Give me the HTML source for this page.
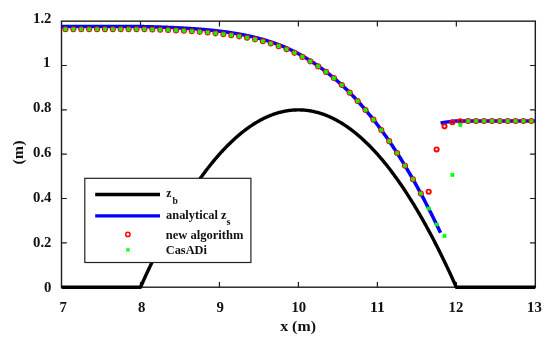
<!DOCTYPE html>
<html><head><meta charset="utf-8"><title>Figure</title>
<style>html,body{margin:0;padding:0;background:#fff}svg{display:block}</style></head>
<body>
<svg width="550" height="338" viewBox="0 0 550 338">
<rect width="550" height="338" fill="#fff"/>
<g stroke="#1c1c1c" stroke-width="1.4" fill="none">
<rect x="61.50" y="21.16" width="473.82" height="266.04"/>
</g>
<g stroke="#1c1c1c" stroke-width="1.2" fill="none">
<path d="M140.47,287.20v-5.3 M140.47,21.16v5.3"/>
<path d="M219.44,287.20v-5.3 M219.44,21.16v5.3"/>
<path d="M298.41,287.20v-5.3 M298.41,21.16v5.3"/>
<path d="M377.38,287.20v-5.3 M377.38,21.16v5.3"/>
<path d="M456.35,287.20v-5.3 M456.35,21.16v5.3"/>
<path d="M61.50,242.86h5.3 M535.32,242.86h-5.3"/>
<path d="M61.50,198.52h5.3 M535.32,198.52h-5.3"/>
<path d="M61.50,154.18h5.3 M535.32,154.18h-5.3"/>
<path d="M61.50,109.84h5.3 M535.32,109.84h-5.3"/>
<path d="M61.50,65.50h5.3 M535.32,65.50h-5.3"/>
</g>
<clipPath id="c"><rect x="59.50" y="19.16" width="477.82" height="270.04"/></clipPath>
<g clip-path="url(#c)">
<path d="M61.50,287.25 L62.29,287.25 L63.08,287.25 L63.87,287.25 L64.66,287.25 L65.45,287.25 L66.24,287.25 L67.03,287.25 L67.82,287.25 L68.61,287.25 L69.40,287.25 L70.19,287.25 L70.98,287.25 L71.77,287.25 L72.56,287.25 L73.35,287.25 L74.14,287.25 L74.92,287.25 L75.71,287.25 L76.50,287.25 L77.29,287.25 L78.08,287.25 L78.87,287.25 L79.66,287.25 L80.45,287.25 L81.24,287.25 L82.03,287.25 L82.82,287.25 L83.61,287.25 L84.40,287.25 L85.19,287.25 L85.98,287.25 L86.77,287.25 L87.56,287.25 L88.35,287.25 L89.14,287.25 L89.93,287.25 L90.72,287.25 L91.51,287.25 L92.30,287.25 L93.09,287.25 L93.88,287.25 L94.67,287.25 L95.46,287.25 L96.25,287.25 L97.04,287.25 L97.83,287.25 L98.62,287.25 L99.41,287.25 L100.20,287.25 L100.98,287.25 L101.77,287.25 L102.56,287.25 L103.35,287.25 L104.14,287.25 L104.93,287.25 L105.72,287.25 L106.51,287.25 L107.30,287.25 L108.09,287.25 L108.88,287.25 L109.67,287.25 L110.46,287.25 L111.25,287.25 L112.04,287.25 L112.83,287.25 L113.62,287.25 L114.41,287.25 L115.20,287.25 L115.99,287.25 L116.78,287.25 L117.57,287.25 L118.36,287.25 L119.15,287.25 L119.94,287.25 L120.73,287.25 L121.52,287.25 L122.31,287.25 L123.10,287.25 L123.89,287.25 L124.68,287.25 L125.47,287.25 L126.26,287.25 L127.05,287.25 L127.83,287.25 L128.62,287.25 L129.41,287.25 L130.20,287.25 L130.99,287.25 L131.78,287.25 L132.57,287.25 L133.36,287.25 L134.15,287.25 L134.94,287.25 L135.73,287.25 L136.52,287.25 L137.31,287.25 L138.10,287.25 L138.89,287.25 L139.68,287.25 L140.47,287.25 L141.26,285.48 L142.05,283.72 L142.84,281.97 L143.63,280.23 L144.42,278.49 L145.21,276.77 L146.00,275.05 L146.79,273.34 L147.58,271.65 L148.37,269.96 L149.16,268.28 L149.95,266.61 L150.74,264.94 L151.53,263.29 L152.32,261.64 L153.11,260.01 L153.89,258.38 L154.68,256.76 L155.47,255.15 L156.26,253.55 L157.05,251.96 L157.84,250.38 L158.63,248.80 L159.42,247.24 L160.21,245.68 L161.00,244.13 L161.79,242.60 L162.58,241.07 L163.37,239.54 L164.16,238.03 L164.95,236.53 L165.74,235.04 L166.53,233.55 L167.32,232.07 L168.11,230.61 L168.90,229.15 L169.69,227.70 L170.48,226.26 L171.27,224.82 L172.06,223.40 L172.85,221.99 L173.64,220.58 L174.43,219.18 L175.22,217.80 L176.01,216.42 L176.80,215.05 L177.59,213.69 L178.38,212.33 L179.17,210.99 L179.95,209.66 L180.74,208.33 L181.53,207.01 L182.32,205.70 L183.11,204.41 L183.90,203.11 L184.69,201.83 L185.48,200.56 L186.27,199.30 L187.06,198.04 L187.85,196.80 L188.64,195.56 L189.43,194.33 L190.22,193.11 L191.01,191.90 L191.80,190.70 L192.59,189.51 L193.38,188.32 L194.17,187.15 L194.96,185.98 L195.75,184.82 L196.54,183.68 L197.33,182.54 L198.12,181.41 L198.91,180.28 L199.70,179.17 L200.49,178.07 L201.28,176.97 L202.07,175.89 L202.86,174.81 L203.65,173.74 L204.44,172.68 L205.23,171.63 L206.02,170.59 L206.80,169.55 L207.59,168.53 L208.38,167.51 L209.17,166.51 L209.96,165.51 L210.75,164.52 L211.54,163.54 L212.33,162.57 L213.12,161.61 L213.91,160.65 L214.70,159.71 L215.49,158.77 L216.28,157.85 L217.07,156.93 L217.86,156.02 L218.65,155.12 L219.44,154.23 L220.23,153.35 L221.02,152.47 L221.81,151.61 L222.60,150.75 L223.39,149.91 L224.18,149.07 L224.97,148.24 L225.76,147.42 L226.55,146.61 L227.34,145.81 L228.13,145.01 L228.92,144.23 L229.71,143.45 L230.50,142.68 L231.29,141.93 L232.08,141.18 L232.86,140.44 L233.65,139.70 L234.44,138.98 L235.23,138.27 L236.02,137.56 L236.81,136.87 L237.60,136.18 L238.39,135.50 L239.18,134.83 L239.97,134.17 L240.76,133.52 L241.55,132.88 L242.34,132.24 L243.13,131.62 L243.92,131.00 L244.71,130.39 L245.50,129.79 L246.29,129.20 L247.08,128.62 L247.87,128.05 L248.66,127.49 L249.45,126.93 L250.24,126.39 L251.03,125.85 L251.82,125.32 L252.61,124.81 L253.40,124.30 L254.19,123.80 L254.98,123.30 L255.77,122.82 L256.56,122.35 L257.35,121.88 L258.14,121.42 L258.93,120.98 L259.71,120.54 L260.50,120.11 L261.29,119.68 L262.08,119.27 L262.87,118.87 L263.66,118.47 L264.45,118.09 L265.24,117.71 L266.03,117.34 L266.82,116.98 L267.61,116.63 L268.40,116.29 L269.19,115.96 L269.98,115.64 L270.77,115.32 L271.56,115.02 L272.35,114.72 L273.14,114.43 L273.93,114.15 L274.72,113.88 L275.51,113.62 L276.30,113.37 L277.09,113.12 L277.88,112.89 L278.67,112.66 L279.46,112.44 L280.25,112.24 L281.04,112.04 L281.83,111.85 L282.62,111.66 L283.41,111.49 L284.20,111.33 L284.99,111.17 L285.77,111.03 L286.56,110.89 L287.35,110.76 L288.14,110.64 L288.93,110.53 L289.72,110.43 L290.51,110.33 L291.30,110.25 L292.09,110.17 L292.88,110.11 L293.67,110.05 L294.46,110.00 L295.25,109.96 L296.04,109.93 L296.83,109.91 L297.62,109.89 L298.41,109.89 L299.20,109.89 L299.99,109.91 L300.78,109.93 L301.57,109.96 L302.36,110.00 L303.15,110.05 L303.94,110.11 L304.73,110.17 L305.52,110.25 L306.31,110.33 L307.10,110.43 L307.89,110.53 L308.68,110.64 L309.47,110.76 L310.26,110.89 L311.05,111.03 L311.83,111.17 L312.62,111.33 L313.41,111.49 L314.20,111.66 L314.99,111.85 L315.78,112.04 L316.57,112.24 L317.36,112.44 L318.15,112.66 L318.94,112.89 L319.73,113.12 L320.52,113.37 L321.31,113.62 L322.10,113.88 L322.89,114.15 L323.68,114.43 L324.47,114.72 L325.26,115.02 L326.05,115.32 L326.84,115.64 L327.63,115.96 L328.42,116.29 L329.21,116.63 L330.00,116.98 L330.79,117.34 L331.58,117.71 L332.37,118.09 L333.16,118.47 L333.95,118.87 L334.74,119.27 L335.53,119.68 L336.32,120.11 L337.11,120.54 L337.89,120.98 L338.68,121.42 L339.47,121.88 L340.26,122.35 L341.05,122.82 L341.84,123.30 L342.63,123.80 L343.42,124.30 L344.21,124.81 L345.00,125.32 L345.79,125.85 L346.58,126.39 L347.37,126.93 L348.16,127.49 L348.95,128.05 L349.74,128.62 L350.53,129.20 L351.32,129.79 L352.11,130.39 L352.90,131.00 L353.69,131.62 L354.48,132.24 L355.27,132.88 L356.06,133.52 L356.85,134.17 L357.64,134.83 L358.43,135.50 L359.22,136.18 L360.01,136.87 L360.80,137.56 L361.59,138.27 L362.38,138.98 L363.17,139.70 L363.96,140.44 L364.74,141.18 L365.53,141.93 L366.32,142.68 L367.11,143.45 L367.90,144.23 L368.69,145.01 L369.48,145.81 L370.27,146.61 L371.06,147.42 L371.85,148.24 L372.64,149.07 L373.43,149.91 L374.22,150.75 L375.01,151.61 L375.80,152.47 L376.59,153.35 L377.38,154.23 L378.17,155.12 L378.96,156.02 L379.75,156.93 L380.54,157.85 L381.33,158.77 L382.12,159.71 L382.91,160.65 L383.70,161.61 L384.49,162.57 L385.28,163.54 L386.07,164.52 L386.86,165.51 L387.65,166.51 L388.44,167.51 L389.23,168.53 L390.02,169.55 L390.80,170.59 L391.59,171.63 L392.38,172.68 L393.17,173.74 L393.96,174.81 L394.75,175.89 L395.54,176.97 L396.33,178.07 L397.12,179.17 L397.91,180.28 L398.70,181.41 L399.49,182.54 L400.28,183.68 L401.07,184.82 L401.86,185.98 L402.65,187.15 L403.44,188.32 L404.23,189.51 L405.02,190.70 L405.81,191.90 L406.60,193.11 L407.39,194.33 L408.18,195.56 L408.97,196.80 L409.76,198.04 L410.55,199.30 L411.34,200.56 L412.13,201.83 L412.92,203.11 L413.71,204.41 L414.50,205.70 L415.29,207.01 L416.08,208.33 L416.87,209.66 L417.65,210.99 L418.44,212.33 L419.23,213.69 L420.02,215.05 L420.81,216.42 L421.60,217.80 L422.39,219.18 L423.18,220.58 L423.97,221.99 L424.76,223.40 L425.55,224.82 L426.34,226.26 L427.13,227.70 L427.92,229.15 L428.71,230.61 L429.50,232.07 L430.29,233.55 L431.08,235.04 L431.87,236.53 L432.66,238.03 L433.45,239.54 L434.24,241.07 L435.03,242.60 L435.82,244.13 L436.61,245.68 L437.40,247.24 L438.19,248.80 L438.98,250.38 L439.77,251.96 L440.56,253.55 L441.35,255.15 L442.14,256.76 L442.93,258.38 L443.71,260.01 L444.50,261.64 L445.29,263.29 L446.08,264.94 L446.87,266.61 L447.66,268.28 L448.45,269.96 L449.24,271.65 L450.03,273.34 L450.82,275.05 L451.61,276.77 L452.40,278.49 L453.19,280.23 L453.98,281.97 L454.77,283.72 L455.56,285.48 L456.35,287.25 L457.14,287.25 L457.93,287.25 L458.72,287.25 L459.51,287.25 L460.30,287.25 L461.09,287.25 L461.88,287.25 L462.67,287.25 L463.46,287.25 L464.25,287.25 L465.04,287.25 L465.83,287.25 L466.62,287.25 L467.41,287.25 L468.20,287.25 L468.99,287.25 L469.77,287.25 L470.56,287.25 L471.35,287.25 L472.14,287.25 L472.93,287.25 L473.72,287.25 L474.51,287.25 L475.30,287.25 L476.09,287.25 L476.88,287.25 L477.67,287.25 L478.46,287.25 L479.25,287.25 L480.04,287.25 L480.83,287.25 L481.62,287.25 L482.41,287.25 L483.20,287.25 L483.99,287.25 L484.78,287.25 L485.57,287.25 L486.36,287.25 L487.15,287.25 L487.94,287.25 L488.73,287.25 L489.52,287.25 L490.31,287.25 L491.10,287.25 L491.89,287.25 L492.68,287.25 L493.47,287.25 L494.26,287.25 L495.05,287.25 L495.83,287.25 L496.62,287.25 L497.41,287.25 L498.20,287.25 L498.99,287.25 L499.78,287.25 L500.57,287.25 L501.36,287.25 L502.15,287.25 L502.94,287.25 L503.73,287.25 L504.52,287.25 L505.31,287.25 L506.10,287.25 L506.89,287.25 L507.68,287.25 L508.47,287.25 L509.26,287.25 L510.05,287.25 L510.84,287.25 L511.63,287.25 L512.42,287.25 L513.21,287.25 L514.00,287.25 L514.79,287.25 L515.58,287.25 L516.37,287.25 L517.16,287.25 L517.95,287.25 L518.74,287.25 L519.53,287.25 L520.32,287.25 L521.11,287.25 L521.90,287.25 L522.68,287.25 L523.47,287.25 L524.26,287.25 L525.05,287.25 L525.84,287.25 L526.63,287.25 L527.42,287.25 L528.21,287.25 L529.00,287.25 L529.79,287.25 L530.58,287.25 L531.37,287.25 L532.16,287.25 L532.95,287.25 L533.74,287.25 L534.53,287.25 L535.32,287.25" stroke="#000" stroke-width="3.4" fill="none" stroke-linejoin="round"/>
<path d="M61.50,26.53 L62.29,26.53 L63.08,26.53 L63.87,26.53 L64.66,26.53 L65.45,26.53 L66.24,26.53 L67.03,26.53 L67.82,26.53 L68.61,26.53 L69.40,26.53 L70.19,26.53 L70.98,26.53 L71.77,26.53 L72.56,26.53 L73.35,26.53 L74.14,26.53 L74.92,26.53 L75.71,26.53 L76.50,26.53 L77.29,26.53 L78.08,26.53 L78.87,26.53 L79.66,26.53 L80.45,26.53 L81.24,26.53 L82.03,26.53 L82.82,26.53 L83.61,26.53 L84.40,26.53 L85.19,26.53 L85.98,26.53 L86.77,26.53 L87.56,26.53 L88.35,26.53 L89.14,26.53 L89.93,26.53 L90.72,26.53 L91.51,26.53 L92.30,26.53 L93.09,26.53 L93.88,26.53 L94.67,26.53 L95.46,26.53 L96.25,26.53 L97.04,26.53 L97.83,26.53 L98.62,26.53 L99.41,26.53 L100.20,26.53 L100.98,26.53 L101.77,26.53 L102.56,26.53 L103.35,26.53 L104.14,26.53 L104.93,26.53 L105.72,26.53 L106.51,26.53 L107.30,26.53 L108.09,26.53 L108.88,26.53 L109.67,26.53 L110.46,26.53 L111.25,26.53 L112.04,26.53 L112.83,26.53 L113.62,26.53 L114.41,26.53 L115.20,26.53 L115.99,26.53 L116.78,26.53 L117.57,26.53 L118.36,26.53 L119.15,26.53 L119.94,26.53 L120.73,26.53 L121.52,26.53 L122.31,26.53 L123.10,26.53 L123.89,26.53 L124.68,26.53 L125.47,26.53 L126.26,26.53 L127.05,26.53 L127.83,26.53 L128.62,26.53 L129.41,26.53 L130.20,26.53 L130.99,26.53 L131.78,26.53 L132.57,26.53 L133.36,26.53 L134.15,26.53 L134.94,26.53 L135.73,26.53 L136.52,26.53 L137.31,26.53 L138.10,26.53 L138.89,26.53 L139.68,26.53 L140.47,26.53 L141.26,26.55 L142.05,26.57 L142.84,26.59 L143.63,26.61 L144.42,26.63 L145.21,26.65 L146.00,26.67 L146.79,26.69 L147.58,26.71 L148.37,26.73 L149.16,26.75 L149.95,26.77 L150.74,26.79 L151.53,26.82 L152.32,26.84 L153.11,26.86 L153.89,26.89 L154.68,26.91 L155.47,26.93 L156.26,26.96 L157.05,26.98 L157.84,27.01 L158.63,27.04 L159.42,27.06 L160.21,27.09 L161.00,27.12 L161.79,27.15 L162.58,27.17 L163.37,27.20 L164.16,27.23 L164.95,27.26 L165.74,27.29 L166.53,27.32 L167.32,27.35 L168.11,27.39 L168.90,27.42 L169.69,27.45 L170.48,27.48 L171.27,27.52 L172.06,27.55 L172.85,27.59 L173.64,27.62 L174.43,27.66 L175.22,27.70 L176.01,27.73 L176.80,27.77 L177.59,27.81 L178.38,27.85 L179.17,27.89 L179.95,27.93 L180.74,27.97 L181.53,28.02 L182.32,28.06 L183.11,28.10 L183.90,28.15 L184.69,28.19 L185.48,28.24 L186.27,28.28 L187.06,28.33 L187.85,28.38 L188.64,28.43 L189.43,28.48 L190.22,28.53 L191.01,28.58 L191.80,28.63 L192.59,28.69 L193.38,28.74 L194.17,28.80 L194.96,28.85 L195.75,28.91 L196.54,28.97 L197.33,29.02 L198.12,29.08 L198.91,29.15 L199.70,29.21 L200.49,29.27 L201.28,29.33 L202.07,29.40 L202.86,29.47 L203.65,29.53 L204.44,29.60 L205.23,29.67 L206.02,29.74 L206.80,29.81 L207.59,29.89 L208.38,29.96 L209.17,30.04 L209.96,30.11 L210.75,30.19 L211.54,30.27 L212.33,30.35 L213.12,30.44 L213.91,30.52 L214.70,30.60 L215.49,30.69 L216.28,30.78 L217.07,30.87 L217.86,30.96 L218.65,31.05 L219.44,31.15 L220.23,31.24 L221.02,31.34 L221.81,31.44 L222.60,31.54 L223.39,31.64 L224.18,31.74 L224.97,31.85 L225.76,31.96 L226.55,32.06 L227.34,32.17 L228.13,32.29 L228.92,32.40 L229.71,32.52 L230.50,32.64 L231.29,32.76 L232.08,32.88 L232.86,33.00 L233.65,33.13 L234.44,33.26 L235.23,33.39 L236.02,33.52 L236.81,33.65 L237.60,33.79 L238.39,33.93 L239.18,34.07 L239.97,34.21 L240.76,34.36 L241.55,34.50 L242.34,34.65 L243.13,34.81 L243.92,34.96 L244.71,35.12 L245.50,35.28 L246.29,35.44 L247.08,35.61 L247.87,35.77 L248.66,35.94 L249.45,36.11 L250.24,36.29 L251.03,36.47 L251.82,36.65 L252.61,36.83 L253.40,37.02 L254.19,37.21 L254.98,37.40 L255.77,37.59 L256.56,37.79 L257.35,37.99 L258.14,38.20 L258.92,38.40 L259.71,38.61 L260.50,38.82 L261.29,39.04 L262.08,39.26 L262.87,39.48 L263.66,39.71 L264.45,39.94 L265.24,40.17 L266.03,40.41 L266.82,40.64 L267.61,40.89 L268.40,41.13 L269.19,41.38 L269.98,41.64 L270.77,41.89 L271.56,42.15 L272.35,42.42 L273.14,42.69 L273.93,42.96 L274.72,43.23 L275.51,43.51 L276.30,43.79 L277.09,44.08 L277.88,44.37 L278.67,44.67 L279.46,44.97 L280.25,45.27 L281.04,45.58 L281.83,45.89 L282.62,46.20 L283.41,46.54 L284.20,46.88 L284.99,47.22 L285.77,47.57 L286.56,47.92 L287.35,48.28 L288.14,48.64 L288.93,49.00 L289.72,49.37 L290.51,49.75 L291.30,50.12 L292.09,50.51 L292.88,50.90 L293.67,51.29 L294.46,51.69 L295.25,52.09 L296.04,52.50 L296.83,52.91 L297.62,53.32 L298.41,53.75 L299.20,54.17 L299.99,54.60 L300.78,55.04 L301.57,55.48 L302.36,55.93 L303.15,56.38 L303.94,56.84 L304.73,57.30 L305.52,57.77 L306.31,58.24 L307.10,58.72 L307.89,59.20 L308.68,59.69 L309.47,60.18 L310.26,60.68 L311.05,61.18 L311.83,61.69 L312.62,62.21 L313.41,62.73 L314.20,63.26 L314.99,63.79 L315.78,64.33 L316.57,64.87 L317.36,65.42 L318.15,65.98 L318.94,66.54 L319.73,67.10 L320.52,67.68 L321.31,68.25 L322.10,68.84 L322.89,69.41 L323.68,69.99 L324.47,70.58 L325.26,71.17 L326.05,71.77 L326.84,72.38 L327.63,72.99 L328.42,73.60 L329.21,74.23 L330.00,74.85 L330.79,75.49 L331.58,76.13 L332.37,76.78 L333.16,77.43 L333.95,78.09 L334.74,78.76 L335.53,79.43 L336.32,80.11 L337.11,80.80 L337.89,81.49 L338.68,82.19 L339.47,82.90 L340.26,83.61 L341.05,84.33 L341.84,85.05 L342.63,85.78 L343.42,86.52 L344.21,87.27 L345.00,88.02 L345.79,88.78 L346.58,89.54 L347.37,90.31 L348.16,91.09 L348.95,91.88 L349.74,92.67 L350.53,93.47 L351.32,94.27 L352.11,95.09 L352.90,95.91 L353.69,96.73 L354.48,97.57 L355.27,98.41 L356.06,99.25 L356.85,100.11 L357.64,100.97 L358.43,101.84 L359.22,102.71 L360.01,103.60 L360.80,104.49 L361.59,105.38 L362.38,106.29 L363.17,107.20 L363.96,108.12 L364.74,109.04 L365.53,109.97 L366.32,110.91 L367.11,111.86 L367.90,112.81 L368.69,113.78 L369.48,114.74 L370.27,115.71 L371.06,116.69 L371.85,117.67 L372.64,118.66 L373.43,119.65 L374.22,120.66 L375.01,121.67 L375.80,122.69 L376.59,123.71 L377.38,124.75 L378.17,125.79 L378.96,126.84 L379.75,127.89 L380.54,128.95 L381.33,130.03 L382.12,131.10 L382.91,132.19 L383.70,133.28 L384.49,134.39 L385.28,135.49 L386.07,136.61 L386.86,137.73 L387.65,138.87 L388.44,140.01 L389.23,141.15 L390.02,142.31 L390.80,143.47 L391.59,144.64 L392.38,145.82 L393.17,147.00 L393.96,148.20 L394.75,149.40 L395.54,150.61 L396.33,151.82 L397.12,153.05 L397.91,154.28 L398.70,155.52 L399.49,156.77 L400.28,158.02 L401.07,159.29 L401.86,160.56 L402.65,161.84 L403.44,163.13 L404.23,164.42 L405.02,165.72 L405.81,167.03 L406.60,168.35 L407.39,169.68 L408.18,171.02 L408.97,172.36 L409.76,173.71 L410.55,175.07 L411.34,176.43 L412.13,177.81 L412.92,179.19 L413.71,180.58 L414.50,181.98 L415.29,183.39 L416.08,184.80 L416.86,186.22 L417.65,187.66 L418.44,189.10 L419.23,190.56 L420.02,192.02 L420.81,193.48 L421.60,194.96 L422.39,196.44 L423.18,197.94 L423.97,199.44 L424.76,200.95 L425.55,202.46 L426.34,203.99 L427.13,205.52 L427.92,207.06 L428.71,208.61 L429.50,210.17 L430.29,211.74 L431.08,213.31 L431.87,214.89 L432.66,216.48 L433.45,218.08 L434.24,219.69 L435.03,221.31 L435.82,222.93 L436.61,224.56 L437.40,226.20 L438.19,227.85 L438.98,229.50 L439.77,231.17 L440.56,232.84" stroke="#00f" stroke-width="3.5" fill="none" stroke-linejoin="round"/>
<path d="M440.56,123.00 L441.35,122.86 L442.14,122.73 L442.93,122.60 L443.71,122.48 L444.50,122.36 L445.29,122.24 L446.08,122.13 L446.87,122.02 L447.66,121.92 L448.45,121.82 L449.24,121.72 L450.03,121.63 L450.82,121.54 L451.61,121.45 L452.40,121.36 L453.19,121.28 L453.98,121.20 L454.77,121.12 L455.56,121.05 L456.35,120.98 L457.14,120.98 L457.93,120.98 L458.72,120.98 L459.51,120.98 L460.30,120.98 L461.09,120.98 L461.88,120.98 L462.67,120.98 L463.46,120.98 L464.25,120.98 L465.04,120.98 L465.83,120.98 L466.62,120.98 L467.41,120.98 L468.20,120.98 L468.99,120.98 L469.77,120.98 L470.56,120.98 L471.35,120.98 L472.14,120.98 L472.93,120.98 L473.72,120.98 L474.51,120.98 L475.30,120.98 L476.09,120.98 L476.88,120.98 L477.67,120.98 L478.46,120.98 L479.25,120.98 L480.04,120.98 L480.83,120.98 L481.62,120.98 L482.41,120.98 L483.20,120.98 L483.99,120.98 L484.78,120.98 L485.57,120.98 L486.36,120.98 L487.15,120.98 L487.94,120.98 L488.73,120.98 L489.52,120.98 L490.31,120.98 L491.10,120.98 L491.89,120.98 L492.68,120.98 L493.47,120.98 L494.26,120.98 L495.05,120.98 L495.83,120.98 L496.62,120.98 L497.41,120.98 L498.20,120.98 L498.99,120.98 L499.78,120.98 L500.57,120.98 L501.36,120.98 L502.15,120.98 L502.94,120.98 L503.73,120.98 L504.52,120.98 L505.31,120.98 L506.10,120.98 L506.89,120.98 L507.68,120.98 L508.47,120.98 L509.26,120.98 L510.05,120.98 L510.84,120.98 L511.63,120.98 L512.42,120.98 L513.21,120.98 L514.00,120.98 L514.79,120.98 L515.58,120.98 L516.37,120.98 L517.16,120.98 L517.95,120.98 L518.74,120.98 L519.53,120.98 L520.32,120.98 L521.11,120.98 L521.90,120.98 L522.68,120.98 L523.47,120.98 L524.26,120.98 L525.05,120.98 L525.84,120.98 L526.63,120.98 L527.42,120.98 L528.21,120.98 L529.00,120.98 L529.79,120.98 L530.58,120.98 L531.37,120.98 L532.16,120.98 L532.95,120.98 L533.74,120.98 L534.53,120.98 L535.32,120.98" stroke="#00f" stroke-width="3.4" fill="none" stroke-linejoin="round"/>
<g stroke="#f00" stroke-width="1.9" fill="none">
<circle cx="65.45" cy="29.19" r="2.1"/>
<circle cx="73.35" cy="29.19" r="2.1"/>
<circle cx="81.24" cy="29.19" r="2.1"/>
<circle cx="89.14" cy="29.19" r="2.1"/>
<circle cx="97.04" cy="29.19" r="2.1"/>
<circle cx="104.93" cy="29.19" r="2.1"/>
<circle cx="112.83" cy="29.19" r="2.1"/>
<circle cx="120.73" cy="29.19" r="2.1"/>
<circle cx="128.62" cy="29.19" r="2.1"/>
<circle cx="136.52" cy="29.19" r="2.1"/>
<circle cx="144.42" cy="29.29" r="2.1"/>
<circle cx="152.32" cy="29.50" r="2.1"/>
<circle cx="160.21" cy="29.75" r="2.1"/>
<circle cx="168.11" cy="30.05" r="2.1"/>
<circle cx="176.01" cy="30.39" r="2.1"/>
<circle cx="183.90" cy="30.81" r="2.1"/>
<circle cx="191.80" cy="31.29" r="2.1"/>
<circle cx="199.70" cy="31.87" r="2.1"/>
<circle cx="207.59" cy="32.55" r="2.1"/>
<circle cx="215.49" cy="33.35" r="2.1"/>
<circle cx="223.39" cy="34.22" r="2.1"/>
<circle cx="231.29" cy="35.18" r="2.1"/>
<circle cx="239.18" cy="36.34" r="2.1"/>
<circle cx="247.08" cy="37.72" r="2.1"/>
<circle cx="254.98" cy="39.36" r="2.1"/>
<circle cx="262.87" cy="41.29" r="2.1"/>
<circle cx="270.77" cy="43.54" r="2.1"/>
<circle cx="278.67" cy="46.16" r="2.1"/>
<circle cx="286.56" cy="49.26" r="2.1"/>
<circle cx="294.46" cy="52.87" r="2.1"/>
<circle cx="302.36" cy="56.90" r="2.1"/>
<circle cx="310.26" cy="61.37" r="2.1"/>
<circle cx="318.15" cy="66.39" r="2.1"/>
<circle cx="326.05" cy="71.91" r="2.1"/>
<circle cx="333.95" cy="78.09" r="2.1"/>
<circle cx="341.84" cy="85.05" r="2.1"/>
<circle cx="349.74" cy="92.67" r="2.1"/>
<circle cx="357.64" cy="100.97" r="2.1"/>
<circle cx="365.53" cy="109.97" r="2.1"/>
<circle cx="373.43" cy="119.65" r="2.1"/>
<circle cx="381.33" cy="130.03" r="2.1"/>
<circle cx="389.23" cy="141.15" r="2.1"/>
<circle cx="397.12" cy="153.05" r="2.1"/>
<circle cx="405.02" cy="165.72" r="2.1"/>
<circle cx="412.92" cy="179.19" r="2.1"/>
<circle cx="420.81" cy="193.48" r="2.1"/>
<circle cx="428.71" cy="191.70" r="2.1"/>
<circle cx="436.61" cy="149.44" r="2.1"/>
<circle cx="444.50" cy="126.36" r="2.1"/>
<circle cx="452.40" cy="122.31" r="2.1"/>
<circle cx="460.30" cy="121.24" r="2.1"/>
<circle cx="468.20" cy="120.98" r="2.1"/>
<circle cx="476.09" cy="120.98" r="2.1"/>
<circle cx="483.99" cy="120.98" r="2.1"/>
<circle cx="491.89" cy="120.98" r="2.1"/>
<circle cx="499.78" cy="120.98" r="2.1"/>
<circle cx="507.68" cy="120.98" r="2.1"/>
<circle cx="515.58" cy="120.98" r="2.1"/>
<circle cx="523.47" cy="120.98" r="2.1"/>
<circle cx="531.37" cy="120.98" r="2.1"/>
</g>
<g stroke="#0f0" stroke-width="2.0" fill="none">
<path d="M63.85,27.59l3.2,3.2M63.85,30.79l3.2,-3.2"/>
<path d="M71.75,27.59l3.2,3.2M71.75,30.79l3.2,-3.2"/>
<path d="M79.64,27.59l3.2,3.2M79.64,30.79l3.2,-3.2"/>
<path d="M87.54,27.59l3.2,3.2M87.54,30.79l3.2,-3.2"/>
<path d="M95.44,27.59l3.2,3.2M95.44,30.79l3.2,-3.2"/>
<path d="M103.33,27.59l3.2,3.2M103.33,30.79l3.2,-3.2"/>
<path d="M111.23,27.59l3.2,3.2M111.23,30.79l3.2,-3.2"/>
<path d="M119.13,27.59l3.2,3.2M119.13,30.79l3.2,-3.2"/>
<path d="M127.02,27.59l3.2,3.2M127.02,30.79l3.2,-3.2"/>
<path d="M134.92,27.59l3.2,3.2M134.92,30.79l3.2,-3.2"/>
<path d="M142.82,27.69l3.2,3.2M142.82,30.89l3.2,-3.2"/>
<path d="M150.72,27.90l3.2,3.2M150.72,31.10l3.2,-3.2"/>
<path d="M158.61,28.15l3.2,3.2M158.61,31.35l3.2,-3.2"/>
<path d="M166.51,28.45l3.2,3.2M166.51,31.65l3.2,-3.2"/>
<path d="M174.41,28.79l3.2,3.2M174.41,31.99l3.2,-3.2"/>
<path d="M182.30,29.21l3.2,3.2M182.30,32.41l3.2,-3.2"/>
<path d="M190.20,29.69l3.2,3.2M190.20,32.89l3.2,-3.2"/>
<path d="M198.10,30.27l3.2,3.2M198.10,33.47l3.2,-3.2"/>
<path d="M205.99,30.95l3.2,3.2M205.99,34.15l3.2,-3.2"/>
<path d="M213.89,31.75l3.2,3.2M213.89,34.95l3.2,-3.2"/>
<path d="M221.79,32.62l3.2,3.2M221.79,35.82l3.2,-3.2"/>
<path d="M229.69,33.58l3.2,3.2M229.69,36.78l3.2,-3.2"/>
<path d="M237.58,34.74l3.2,3.2M237.58,37.94l3.2,-3.2"/>
<path d="M245.48,36.12l3.2,3.2M245.48,39.32l3.2,-3.2"/>
<path d="M253.38,37.76l3.2,3.2M253.38,40.96l3.2,-3.2"/>
<path d="M261.27,39.69l3.2,3.2M261.27,42.89l3.2,-3.2"/>
<path d="M269.17,41.94l3.2,3.2M269.17,45.14l3.2,-3.2"/>
<path d="M277.07,44.56l3.2,3.2M277.07,47.76l3.2,-3.2"/>
<path d="M284.96,47.66l3.2,3.2M284.96,50.86l3.2,-3.2"/>
<path d="M292.86,51.27l3.2,3.2M292.86,54.47l3.2,-3.2"/>
<path d="M300.76,55.30l3.2,3.2M300.76,58.50l3.2,-3.2"/>
<path d="M308.66,59.77l3.2,3.2M308.66,62.97l3.2,-3.2"/>
<path d="M316.55,64.79l3.2,3.2M316.55,67.99l3.2,-3.2"/>
<path d="M324.45,70.31l3.2,3.2M324.45,73.51l3.2,-3.2"/>
<path d="M332.35,76.49l3.2,3.2M332.35,79.69l3.2,-3.2"/>
<path d="M340.24,83.45l3.2,3.2M340.24,86.65l3.2,-3.2"/>
<path d="M348.14,91.07l3.2,3.2M348.14,94.27l3.2,-3.2"/>
<path d="M356.04,99.37l3.2,3.2M356.04,102.57l3.2,-3.2"/>
<path d="M363.93,108.37l3.2,3.2M363.93,111.57l3.2,-3.2"/>
<path d="M371.83,118.05l3.2,3.2M371.83,121.25l3.2,-3.2"/>
<path d="M379.73,128.43l3.2,3.2M379.73,131.63l3.2,-3.2"/>
<path d="M387.63,139.55l3.2,3.2M387.63,142.75l3.2,-3.2"/>
<path d="M395.52,151.45l3.2,3.2M395.52,154.65l3.2,-3.2"/>
<path d="M403.42,164.12l3.2,3.2M403.42,167.32l3.2,-3.2"/>
<path d="M411.32,177.59l3.2,3.2M411.32,180.79l3.2,-3.2"/>
<path d="M419.21,191.88l3.2,3.2M419.21,195.08l3.2,-3.2"/>
<path d="M427.11,207.06l3.2,3.2M427.11,210.26l3.2,-3.2"/>
<path d="M435.01,222.91l3.2,3.2M435.01,226.11l3.2,-3.2"/>
<path d="M442.90,234.22l3.2,3.2M442.90,237.42l3.2,-3.2"/>
<path d="M450.80,173.25l3.2,3.2M450.80,176.45l3.2,-3.2"/>
<path d="M458.70,123.25l3.2,3.2M458.70,126.45l3.2,-3.2"/>
<path d="M466.60,119.38l3.2,3.2M466.60,122.58l3.2,-3.2"/>
<path d="M474.49,119.38l3.2,3.2M474.49,122.58l3.2,-3.2"/>
<path d="M482.39,119.38l3.2,3.2M482.39,122.58l3.2,-3.2"/>
<path d="M490.29,119.38l3.2,3.2M490.29,122.58l3.2,-3.2"/>
<path d="M498.18,119.38l3.2,3.2M498.18,122.58l3.2,-3.2"/>
<path d="M506.08,119.38l3.2,3.2M506.08,122.58l3.2,-3.2"/>
<path d="M513.98,119.38l3.2,3.2M513.98,122.58l3.2,-3.2"/>
<path d="M521.87,119.38l3.2,3.2M521.87,122.58l3.2,-3.2"/>
<path d="M529.77,119.38l3.2,3.2M529.77,122.58l3.2,-3.2"/>
</g>
</g>
<rect x="84.8" y="178.3" width="166.10" height="84.20" fill="#fff" stroke="#222" stroke-width="1.2"/>
<path d="M95.2,194.5H160" stroke="#000" stroke-width="3.6"/>
<path d="M95.2,215.9H160" stroke="#00f" stroke-width="3.2"/>
<circle cx="127.9" cy="234.4" r="2.15" stroke="#f00" stroke-width="1.45" fill="none"/>
<path d="M126.40,248.20l3.2,3.2M126.40,251.40l3.2,-3.2" stroke="#0f0" stroke-width="1.4" fill="none"/>
<g font-family="'Liberation Serif', serif" font-weight="bold" fill="#111" font-size="11.6">
<text x="166.2" y="197">z<tspan font-size="9.6" dy="6.8" dx="1.2">b</tspan></text>
<text x="166" y="219.1" textLength="64.5" lengthAdjust="spacingAndGlyphs">analytical z<tspan font-size="9.6" dy="6.2">s</tspan></text>
<text x="165.7" y="239.2" textLength="77.8" lengthAdjust="spacingAndGlyphs">new algorithm</text>
<text x="165.7" y="253.6" textLength="41.3" lengthAdjust="spacingAndGlyphs">CasADi</text>
</g>
<g font-family="'Liberation Serif', serif" font-weight="bold" fill="#111" font-size="14">
<text x="59.41" y="311.8" textLength="7.38" lengthAdjust="spacingAndGlyphs">7</text>
<text x="137.98" y="311.8" textLength="7.38" lengthAdjust="spacingAndGlyphs">8</text>
<text x="216.55" y="311.8" textLength="7.38" lengthAdjust="spacingAndGlyphs">9</text>
<text x="291.43" y="311.8" textLength="14.77" lengthAdjust="spacingAndGlyphs">10</text>
<text x="370.00" y="311.8" textLength="14.77" lengthAdjust="spacingAndGlyphs">11</text>
<text x="448.56" y="311.8" textLength="14.77" lengthAdjust="spacingAndGlyphs">12</text>
<text x="527.13" y="311.8" textLength="14.77" lengthAdjust="spacingAndGlyphs">13</text>
<text x="44.12" y="292.10" textLength="7.38" lengthAdjust="spacingAndGlyphs">0</text>
<text x="33.04" y="247.17" textLength="18.46" lengthAdjust="spacingAndGlyphs">0.2</text>
<text x="33.04" y="202.24" textLength="18.46" lengthAdjust="spacingAndGlyphs">0.4</text>
<text x="33.04" y="157.31" textLength="18.46" lengthAdjust="spacingAndGlyphs">0.6</text>
<text x="33.04" y="112.38" textLength="18.46" lengthAdjust="spacingAndGlyphs">0.8</text>
<text x="43.12" y="67.45" textLength="7.38" lengthAdjust="spacingAndGlyphs">1</text>
<text x="33.04" y="22.52" textLength="18.46" lengthAdjust="spacingAndGlyphs">1.2</text>
<text x="280.2" y="330.7" font-size="13.8" textLength="35.8" lengthAdjust="spacingAndGlyphs">x (m)</text>
<text transform="translate(23.4,164.5) rotate(-90)" font-size="15.2" textLength="24" lengthAdjust="spacingAndGlyphs">(m)</text>
</g>
</svg>
</body></html>
